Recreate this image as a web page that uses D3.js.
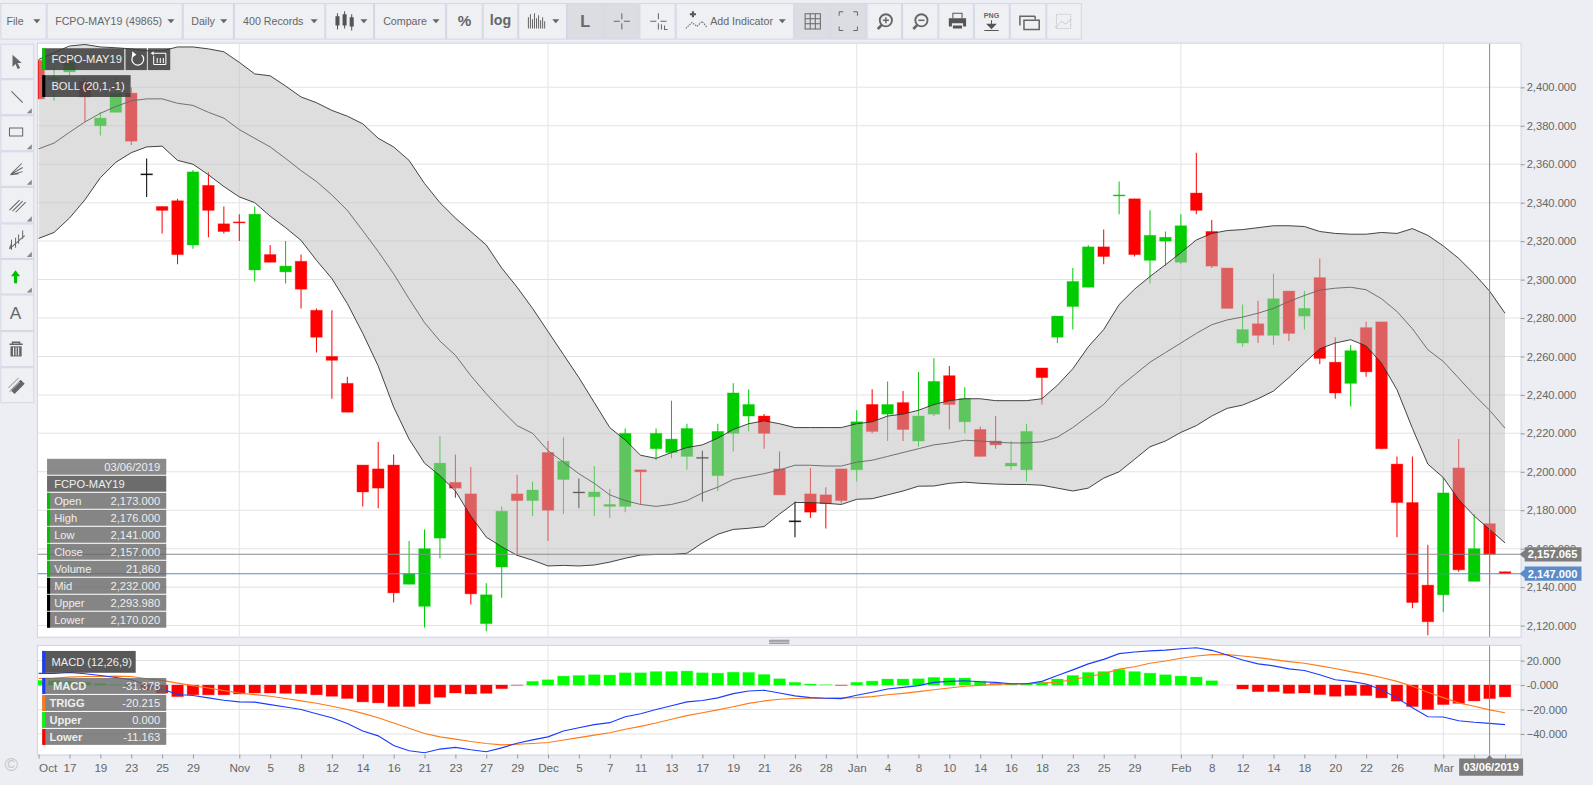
<!DOCTYPE html>
<html>
<head>
<meta charset="utf-8">
<script src="https://d3js.org/d3.v7.min.js"></script>
<style>
    html, body {margin: 0; padding: 0; background: #eceef3; overflow: hidden}
    svg {display: block; font-family: "Liberation Sans", Arial, sans-serif}
    .axis text {fill: #666; font-size: 11px}
    .axis line {stroke: #999}
    .axis path {display: none}
    .grid line {stroke: #e3e3e3}
    .btn {fill: #eef0f4; stroke: #d3d7e6}
    .btn.on {fill: #dcdde2}
    .icon {fill: none}
    .ui-text {fill: #666; font-size: 10.5px}
</style>
</head>
<body>
<div id="chart"></div>
<script>

    let dates = ["2018-10-15","2018-10-16","2018-10-17","2018-10-18","2018-10-19","2018-10-22","2018-10-23","2018-10-24",
        "2018-10-25","2018-10-26","2018-10-29","2018-10-30","2018-10-31","2018-11-01","2018-11-02","2018-11-05",
        "2018-11-07","2018-11-08","2018-11-09","2018-11-12","2018-11-13","2018-11-14","2018-11-15","2018-11-16",
        "2018-11-19","2018-11-21","2018-11-22","2018-11-23","2018-11-26","2018-11-27","2018-11-28","2018-11-29",
        "2018-11-30","2018-12-03","2018-12-04","2018-12-05","2018-12-06","2018-12-07","2018-12-10","2018-12-11",
        "2018-12-12","2018-12-13","2018-12-14","2018-12-17","2018-12-18","2018-12-19","2018-12-20","2018-12-21",
        "2018-12-24","2018-12-26","2018-12-27","2018-12-28","2018-12-31","2019-01-02","2019-01-03","2019-01-04",
        "2019-01-07","2019-01-08","2019-01-09","2019-01-10","2019-01-11","2019-01-14","2019-01-15","2019-01-16",
        "2019-01-17","2019-01-18","2019-01-22","2019-01-23","2019-01-24","2019-01-25","2019-01-28","2019-01-29",
        "2019-01-30","2019-01-31","2019-02-01","2019-02-07","2019-02-08","2019-02-11","2019-02-12","2019-02-13",
        "2019-02-14","2019-02-15","2019-02-18","2019-02-19","2019-02-20","2019-02-21","2019-02-22","2019-02-25",
        "2019-02-26","2019-02-27","2019-02-28","2019-03-01","2019-03-04","2019-03-05","2019-03-06","2019-03-07"];

    let opens = [2414,2404,2408,2403,2380,2387,2397,2355,2338,2341,2318,2349,2329,2330,2305,2313,2304,2309.5,2284,2260,
        2246,2203.5,2201.5,2203.5,2141.5,2130,2165.5,2194.5,2188.5,2121,2150.5,2188.5,2185,2210,2196,2189.5,2187,2182,2182,2201,
        2212,2210,2208,2207.5,2198,2220,2229,2229,2201.5,2174.5,2188.5,2188,2201.5,2201,2235,2230,2236,2216,2230,2250,
        2226,2222,2216,2203,2201,2254,2270,2286,2296,2317,2343.5,2342,2310,2320,2309,2345,2325,2306,2267,2277,
        2271,2294,2281,2301,2257,2246,2275,2278,2204,2184,2141,2136,2202,2143,2173,2148];
    let highs = [2414,2411,2418,2405,2387,2405,2400,2363,2338,2342,2357,2356,2338,2334,2338,2318,2320,2313,2285,2284,
        2249.5,2203.5,2215.5,2209,2164,2170,2218.5,2209,2202.5,2142,2182,2198.5,2195,2216,2218,2196.5,2203,2191,2222.5,2201,
        2222.5,2237,2225,2211,2225,2246,2243,2230,2210.5,2184.5,2202,2192,2201.5,2232,2243,2247,2242,2252,2259,2255,
        2244,2223.5,2229,2216,2225,2254,2281,2306,2318,2326,2351,2342,2336,2325,2334,2366,2331,2306,2287,2289,
        2303,2294,2294,2311,2270,2266,2278,2278,2208,2208,2162,2197,2217,2178,2176,2148];
    let lows = [2394,2393,2406,2382,2375,2387,2370,2343,2324,2308,2316,2322,2324,2320,2299,2309,2298,2285,2262,2238,
        2231,2182,2181,2132,2141.5,2119,2155,2186.5,2131,2117,2134.5,2156.5,2177,2164,2178,2181,2177,2176,2179,2183,
        2206,2207,2201,2184.5,2190,2210.5,2221,2212,2188,2166,2176,2170.5,2183.5,2195,2220,2216,2216,2213,2229,2222,
        2220,2208,2212,2201,2195,2235,2267,2274,2296,2308,2334,2312,2298,2307,2308,2334,2306,2285,2265,2267,
        2266,2268,2274,2256,2238,2234,2249.5,2212,2166,2129,2115,2127,2148,2143,2141,2147];
    let closes = [2394,2405,2413,2395,2384,2397,2372,2355,2336,2313,2356,2336,2325,2329.5,2334,2309,2307,2295,2270,2258,
        2231,2189.5,2191.5,2137,2147,2160,2204.5,2191.5,2136.5,2136,2179.5,2185,2190.5,2180,2205.5,2189.5,2189.5,2183,2220,2200,
        2220,2217,2222.5,2207.5,2221,2241,2235,2220,2188,2174.5,2179,2183.5,2185,2226,2221,2235,2222,2229,2247,2235,
        2238,2208,2214,2204.5,2221,2249,2281,2299,2317,2312,2344,2313,2323,2322,2328,2336,2307,2285,2274,2271,
        2290,2272,2285,2259,2241,2263,2252,2212,2184,2132,2122,2189,2149,2160,2157,2147];

    let bollUpper = [2414.5,2418,2421.5,2422.3,2421,2420.6,2420,2419,2419,2421,2421,2420,2418.5,2413,2407,2406,2400.7,2395,2392,2388,
        2385,2381,2373.5,2369,2362,2350,2340,2332,2325,2318,2306,2296,2285,2273,2261,2249,2236,2223,2216.5,2208.6,
        2207,2210,2212.6,2214,2217.5,2222,2225,2226.5,2225,2223,2223,2223,2223,2225,2226,2229,2230,2232,2235,2237,
        2238,2238,2237,2237,2237,2238,2245,2253.6,2265,2274,2287,2295,2301.6,2307.7,2314,2320.6,2324,2325.5,2326,2327,
        2328,2328,2327.6,2325,2324,2323.6,2323.6,2324.5,2324,2326.5,2323,2317.5,2311,2303,2294,2282.5];
    let bollMid = [2368,2371,2376.6,2382,2386.5,2390,2393,2394,2394,2391.7,2390.6,2387,2384,2378,2373.5,2369,2363,2356.7,2351,2344,
        2336,2325.4,2314.6,2303,2290,2277.6,2268,2260.6,2250,2240.6,2232,2224,2220,2211,2205,2199,2194,2188,2185,2183,
        2182,2183,2185,2189,2192,2196,2197.5,2199,2201,2203.4,2203.4,2203,2203,2205,2206,2208,2210,2212,2214,2215,
        2216.4,2216,2215.4,2215,2215,2215.6,2218,2223,2229,2235,2244,2250.5,2257,2262,2267,2272,2276.5,2279,2280.5,2282.5,
        2285,2288.6,2291.7,2294.5,2295.5,2296,2294.7,2290,2283.4,2274.4,2263.5,2257.4,2248.7,2240,2232,2222.7];
    let bollLower = [2321.4,2324.5,2332,2341.5,2353,2361,2366,2369,2369.4,2362,2360,2354.5,2348.4,2343,2340,2333,2327,2320.4,2310,2300.5,
        2287.5,2272,2255,2233.7,2217,2204.5,2198,2190,2177,2166,2161,2156.5,2154,2151,2151.3,2151,2151.5,2153,2155,2156.7,
        2157,2157,2157.6,2163,2167.5,2170,2170.6,2171.5,2178,2184,2184,2183.6,2183,2185.7,2186,2188,2190,2192.5,2192.6,2194,
        2194.6,2194,2193.6,2193.4,2193.4,2193,2191.5,2190,2191.5,2196.7,2200,2206.5,2213,2216,2220.5,2224,2229,2233,2234.7,2238,
        2242,2249,2256.6,2264,2267,2268.7,2265.5,2256.5,2242.7,2222.6,2204,2197,2185.5,2177,2170,2163];

    let macdLine = [9.5,9.5,10.3,9.2,7.8,6.2,4.3,0.3,-3.2,-7.8,-8.6,-10.5,-12.4,-13.8,-14,-16,-18,-20,-23.5,-26.8,
        -31.4,-37.6,-41.6,-49.5,-53.8,-55.4,-52.4,-51,-53,-54.6,-51.4,-47.6,-44.9,-42.4,-37.6,-34.9,-32.4,-30.8,-26,-23.5,
        -20,-17,-13.8,-12.7,-10.5,-7,-4.9,-4.3,-6.5,-8.9,-10.3,-10.8,-11.1,-8.4,-5.9,-3.2,-1.9,-0.5,2.2,3,
        3.5,2.7,2.2,1.1,1.1,3,7.8,12.4,17.3,21,25.7,27,28,28.6,29.7,30.5,28.4,24.6,20.5,17.3,
        15.7,13.2,11.9,8.4,4.3,3,0.8,-3.8,-10.5,-18.6,-26,-26.2,-29.2,-30.5,-31.4,-32.4];
    let triggLine = [5.4,5.7,6.5,7,7,7.3,7,5.1,3.8,1.6,-0.5,-2.4,-4.6,-6.5,-7.8,-9.2,-11,-13,-14.9,-17.3,
        -20,-23.2,-26.8,-31,-35.4,-39.7,-42.4,-44.3,-46.2,-47.8,-49,-48.4,-47.8,-47,-45,-43,-41,-39,-36.2,-33.8,
        -31,-28,-25,-22.7,-20.3,-17.8,-15,-13,-11.6,-11,-10.8,-10.8,-10.5,-10.3,-9.5,-8,-6.8,-5.4,-3.8,-2.4,
        -1,-0.3,0.5,0.8,1.1,1.6,2.4,4.3,7,9.2,13,15,17.8,19.7,21.9,23.8,24.9,24.9,23.8,22.4,
        20.8,19.2,17.8,15.7,13.5,11,8.9,6.2,3,-1,-5.9,-10.3,-14.6,-17.3,-20.3,-22.7];
    let histValues = [3.8,3.5,3,2,1,0.2,-0.5,-4,-6.5,-9.5,-8,-8,-8,-7.3,-6.5,-6.5,-6.8,-7,-8,-9.2,
        -11,-13.8,-14.6,-17.6,-17.6,-15.4,-10,-6.5,-7.3,-6.8,-3,-0.2,3,4.3,7.3,7.8,8.4,8.1,10,10,
        11,11,11.4,10,9.7,10.5,10.3,8.6,5.1,2.2,0.8,0.2,-0.3,2.2,3.2,4.9,4.9,5.1,6.2,5.7,
        5.7,3.2,1.6,0.8,0.8,2.2,4.9,7.8,10.3,11,12.7,11,9.7,8.4,7.3,6.5,3.5,0,-3.2,-5.4,
        -5.4,-6.8,-6.5,-7.8,-9.2,-8.6,-8.6,-10.5,-13.2,-17.6,-20,-16,-15,-13,-11.1,-9.7];

    let tickDates = ["2018-10-15","2018-10-17","2018-10-19","2018-10-23","2018-10-25","2018-10-29","2018-11-01","2018-11-05",
        "2018-11-08","2018-11-12","2018-11-14","2018-11-16","2018-11-21","2018-11-23","2018-11-27","2018-11-29","2018-12-03",
        "2018-12-05","2018-12-07","2018-12-11","2018-12-13","2018-12-17","2018-12-19","2018-12-21","2018-12-26","2018-12-28",
        "2019-01-02","2019-01-04","2019-01-08","2019-01-10","2019-01-14","2019-01-16","2019-01-18","2019-01-23","2019-01-25",
        "2019-01-29","2019-02-01","2019-02-08","2019-02-12","2019-02-14","2019-02-18","2019-02-20","2019-02-22","2019-02-26",
        "2019-03-01","2019-03-05","2019-03-07"];
    // the last two sit behind the date box
    let tickLabels = ["Oct","17","19","23","25","29","Nov","5","8","12","14","16","21","23","27","29","Dec","5","7","11","13",
        "17","19","21","26","28","Jan","4","8","10","14","16","18","23","25","29","Feb","8","12","14","18","20","22","26","Mar","",""];
    let monthTicks = ["2018-11-01","2018-12-03","2019-01-02","2019-02-01","2019-03-01"];
    let priceTicks = [2120,2140,2160,2180,2200,2220,2240,2260,2280,2300,2320,2340,2360,2380,2400];
    let macdTicks = [-40,-20,0,20];

    let infoRows = [["Open","2,173.000","#00c000"],["High","2,176.000","#00c000"],["Low","2,141.000","#00c000"],
        ["Close","2,157.000","#00c000"],["Volume","21,860","#00c000"],["Mid","2,232.000","#000"],
        ["Upper","2,293.980","#000"],["Lower","2,170.020","#000"]];
    let macdRows = [["MACD","-31.378","#1a3cff"],["TRIGG","-20.215","#ff7a1a"],["Upper","0.000","#00ff00"],["Lower","-11.163","#ff0000"]];

    let crossDate = "2019-03-06", lastPrice = 2157.065, bidPrice = 2147;

    // the screenshot coordinates were read at 1568 wide
    let W = 1568, H = 773;
    let plot = {left: 37, right: 1497, top: 43, bottom: 627},
        sub = {top: 636, bottom: 743};

    let svg = d3.select("#chart").append("svg")
        .attr("width", 1593).attr("height", 785)
        .attr("viewBox", "0 0 " + W + " " + H);

    svg.append("rect").attr("width", W).attr("height", H).attr("fill", "#eceef3");

    let x = d3.scalePoint().domain(dates).range([37.7, 1481.7]);
    let y = d3.scaleLinear().domain([2400, 2120]).range([86, 616]);
    let yM = d3.scaleLinear().domain([20, -40]).range([650.5, 722.7]);

    let defs = svg.append("defs");
    defs.append("clipPath").attr("id", "clip-main").append("rect")
        .attr("x", plot.left).attr("y", plot.top).attr("width", plot.right - plot.left).attr("height", plot.bottom - plot.top);
    defs.append("clipPath").attr("id", "clip-sub").append("rect")
        .attr("x", plot.left).attr("y", sub.top).attr("width", plot.right - plot.left).attr("height", sub.bottom - sub.top);

    // panels
    [[plot.top, plot.bottom], [sub.top, sub.bottom]].forEach(function(p) {
        svg.append("rect").attr("x", plot.left - .5).attr("y", p[0] - .5)
            .attr("width", plot.right - plot.left + 1).attr("height", p[1] - p[0] + 1)
            .attr("fill", "#fff").attr("stroke", "#ced3e6");
    });

    // grid
    let gridMain = svg.append("g").attr("class", "grid").attr("clip-path", "url(#clip-main)");
    gridMain.selectAll(".h").data(priceTicks).enter().append("line")
        .attr("x1", plot.left).attr("x2", plot.right).attr("y1", d => y(d)).attr("y2", d => y(d));
    gridMain.selectAll(".v").data(monthTicks).enter().append("line")
        .attr("x1", d => x(d)).attr("x2", d => x(d)).attr("y1", plot.top).attr("y2", plot.bottom);
    let gridSub = svg.append("g").attr("class", "grid").attr("clip-path", "url(#clip-sub)");
    gridSub.selectAll(".h").data(macdTicks).enter().append("line")
        .attr("x1", plot.left).attr("x2", plot.right).attr("y1", d => yM(d)).attr("y2", d => yM(d));
    gridSub.selectAll(".v").data(monthTicks).enter().append("line")
        .attr("x1", d => x(d)).attr("x2", d => x(d)).attr("y1", sub.top).attr("y2", sub.bottom);

    // candles
    let candleColor = function(i) {
        if (opens[i] === closes[i]) return "#000";
        return closes[i] > opens[i] ? "#00cc00" : "#ff0000";
    };
    let main = svg.append("g").attr("clip-path", "url(#clip-main)");
    let candle = main.selectAll(".candle").data(dates).enter().append("g").attr("class", "candle");
    candle.append("line")
        .attr("x1", d => x(d)).attr("x2", d => x(d))
        .attr("y1", (d, i) => y(highs[i])).attr("y2", (d, i) => y(lows[i]))
        .attr("stroke", (d, i) => candleColor(i)).attr("stroke-width", 1);
    candle.append("rect")
        .attr("x", d => x(d) - 5.7).attr("width", 11.4)
        .attr("y", (d, i) => y(Math.max(opens[i], closes[i])))
        .attr("height", (d, i) => Math.max(1, Math.abs(y(opens[i]) - y(closes[i]))))
        .attr("fill", (d, i) => candleColor(i))
        .attr("stroke", (d, i) => candleColor(i)).attr("stroke-opacity", .35);

    // bollinger band drawn over the candles
    let area = d3.area().x(d => x(d)).y0((d, i) => y(bollLower[i])).y1((d, i) => y(bollUpper[i]));
    main.append("path").datum(dates).attr("d", area).attr("fill", "rgb(190,190,190)").attr("fill-opacity", .5);
    let bandLine = function(values, color) {
        main.append("path").datum(dates)
            .attr("d", d3.line().x(d => x(d)).y((d, i) => y(values[i])))
            .attr("fill", "none").attr("stroke", color).attr("stroke-width", .9);
    };
    bandLine(bollMid, "#666");
    bandLine(bollUpper, "#333");
    bandLine(bollLower, "#333");

    // price lines
    main.append("line").attr("x1", plot.left).attr("x2", plot.right).attr("y1", y(lastPrice)).attr("y2", y(lastPrice)).attr("stroke", "#8c8c8c");
    main.append("line").attr("x1", plot.left).attr("x2", plot.right).attr("y1", y(bidPrice)).attr("y2", y(bidPrice)).attr("stroke", "#5b8bc9");

    // macd
    let subG = svg.append("g").attr("clip-path", "url(#clip-sub)");
    subG.selectAll(".hist").data(dates).enter().append("rect").attr("class", "hist")
        .attr("x", d => x(d) - 5.7).attr("width", 11.4)
        .attr("y", (d, i) => yM(Math.max(histValues[i], 0)))
        .attr("height", (d, i) => Math.abs(yM(histValues[i]) - yM(0)))
        .attr("fill", (d, i) => histValues[i] >= 0 ? "#00ff00" : "#ff0000")
        .attr("stroke", (d, i) => histValues[i] >= 0 ? "#00ff00" : "#ff0000").attr("stroke-opacity", .3);
    let subLine = function(values, color) {
        subG.append("path").datum(dates)
            .attr("d", d3.line().x(d => x(d)).y((d, i) => yM(values[i])))
            .attr("fill", "none").attr("stroke", color).attr("stroke-width", 1.1);
    };
    subLine(triggLine, "#ff7a1a");
    subLine(macdLine, "#1a3cff");

    // crosshair
    svg.append("line").attr("x1", x(crossDate)).attr("x2", x(crossDate)).attr("y1", plot.top).attr("y2", plot.bottom).attr("stroke", "#8c8c8c");
    svg.append("line").attr("x1", x(crossDate)).attr("x2", x(crossDate)).attr("y1", sub.top).attr("y2", sub.bottom).attr("stroke", "#8c8c8c");

    // axes
    svg.append("g").attr("class", "axis").attr("transform", "translate(" + plot.right + ",0)")
        .call(d3.axisRight(y).tickValues(priceTicks).tickSize(4).tickPadding(2).tickFormat(d3.format(",.3f")));
    svg.append("g").attr("class", "axis").attr("transform", "translate(" + plot.right + ",0)")
        .call(d3.axisRight(yM).tickValues(macdTicks).tickSize(4).tickPadding(2)
            .tickFormat(d => d === 0 ? "-0.000" : d3.format(".3f")(d)));
    let xAxis = svg.append("g").attr("class", "axis").attr("transform", "translate(0," + sub.bottom + ")")
        .call(d3.axisBottom(x).tickValues(tickDates).tickSize(4).tickPadding(5).tickFormat((d, i) => tickLabels[i]));
    xAxis.selectAll("text").style("font-size", "11.5px").filter((d, i) => i === 0).attr("text-anchor", "start");

    // price tags
    let priceTag = function(v, color) {
        let t = svg.append("g").attr("transform", "translate(0," + y(v) + ")");
        t.append("path").attr("d", "M1496,0 L1501,-4 L1501,-7 L1557,-7 L1557,7 L1501,7 L1501,4 Z").attr("fill", color);
        t.append("text").attr("x", 1553).attr("y", 4).attr("text-anchor", "end")
            .attr("fill", "#fff").attr("font-size", 11).attr("font-weight", "bold").text(d3.format(",.3f")(v));
    };
    priceTag(lastPrice, "#7d7d7d");
    priceTag(bidPrice, "#5b8bc9");

    // date box under the crosshair
    let dateBox = svg.append("g");
    dateBox.append("path").attr("d", d3.line()([[x(crossDate) - 30, 747], [x(crossDate) - 3, 747], [x(crossDate), 743.5], [x(crossDate) + 3, 747], [x(crossDate) + 33, 747], [x(crossDate) + 33, 764], [x(crossDate) - 30, 764]])).attr("fill", "#7d7d7d");
    dateBox.append("text").attr("x", x(crossDate) + 1.5).attr("y", 759.5).attr("text-anchor", "middle")
        .attr("fill", "#fff").attr("font-size", 11).attr("font-weight", "bold").text("03/06/2019");

    // legends
    let tag = function(xl, yt, w, h, strip, label) {
        svg.append("rect").attr("x", xl).attr("y", yt).attr("width", w).attr("height", h).attr("fill", "#3c3c3c").attr("fill-opacity", .85);
        svg.append("rect").attr("x", xl).attr("y", yt).attr("width", 3).attr("height", h).attr("fill", strip);
        svg.append("text").attr("x", xl + 9).attr("y", yt + 15).attr("fill", "#eee").attr("font-size", 11).text(label);
    };
    tag(41.3, 47.5, 80.7, 21.5, "#00cc00", "FCPO-MAY19");
    tag(41.3, 74, 87, 21.5, "#000", "BOLL (20,1,-1)");
    tag(41.3, 641, 92, 21.5, "#1a3cff", "MACD (12,26,9)");
    [[123.3, 21], [145.3, 22]].forEach(function(b) {
        svg.append("rect").attr("x", b[0]).attr("y", 47.5).attr("width", b[1]).attr("height", 21.5).attr("fill", "#3c3c3c").attr("fill-opacity", .85);
    });
    svg.append("path").attr("class", "icon").style("stroke", "#fff").style("stroke-width", 1.2)
        .attr("d", "M139.2,54 A5.8,5.8 0 1 1 131,54.5");
    svg.append("path").attr("d", "M130,50.5 L134,54 L129.5,56.5 Z").attr("fill", "#fff");
    svg.append("path").attr("class", "icon").style("stroke", "#fff")
        .attr("d", "M151,52.5 H163 M151,63.5 H163 M163,52.5 V63.5 M151,55 V63.5 M154.5,57 V62 M157.5,57 V62 M160.5,57 V62");
    svg.append("path").attr("d", "M148,52.5 L151,50.5 V54.5 Z").attr("fill", "#fff");

    let rowTable = function(xl, yt, w, rows, bold) {
        rows.forEach(function(r, i) {
            let yy = yt + i * 16.73;
            svg.append("rect").attr("x", xl).attr("y", yy).attr("width", w).attr("height", 15.7).attr("fill", "#666").attr("fill-opacity", .8);
            svg.append("rect").attr("x", xl).attr("y", yy).attr("width", 3).attr("height", 15.7).attr("fill", r[2]);
            svg.append("text").attr("x", xl + (bold && i === 0 ? 10.5 : 7)).attr("y", yy + 12).attr("fill", "#eee").attr("font-size", 11).attr("font-weight", bold ? "bold" : "normal").text(r[0]);
            svg.append("text").attr("x", 157.4).attr("y", yy + 12).attr("text-anchor", "end").attr("fill", "#eee").attr("font-size", 11).text(r[1]);
        });
    };
    svg.append("rect").attr("x", 46).attr("y", 451.8).attr("width", 117.4).attr("height", 15.7).attr("fill", "#777").attr("fill-opacity", .85);
    svg.append("text").attr("x", 157.4).attr("y", 463.8).attr("text-anchor", "end").attr("fill", "#eee").attr("font-size", 11).text("03/06/2019");
    svg.append("rect").attr("x", 46).attr("y", 468.5).attr("width", 117.4).attr("height", 15.7).attr("fill", "#5c5c5c").attr("fill-opacity", .9);
    svg.append("text").attr("x", 53).attr("y", 480.5).attr("fill", "#eee").attr("font-size", 11).text("FCPO-MAY19");
    rowTable(46, 485.3, 117.4, infoRows, false);
    rowTable(41.3, 667.6, 122.1, macdRows, true);

    // splitter grip and copyright
    [630.5, 632, 633.5].forEach(function(g) {
        svg.append("line").attr("x1", 757).attr("x2", 777).attr("y1", g).attr("y2", g).attr("stroke", "#777").attr("stroke-width", .8);
    });
    svg.append("text").attr("x", 4).attr("y", 759).attr("fill", "#c4c6cc").attr("font-size", 18).text("©");

    // toolbar
    let topEdges = [0, 45.6, 179.6, 230, 320, 368, 439, 475, 510, 558, 593.8, 629.3, 665, 781.8, 817.4, 853, 888, 923.7, 958.6, 994, 1030, 1065];
    let activeTop = [9, 10, 13, 14];
    let bar = svg.append("g");
    d3.pairs(topEdges).forEach(function(e, i) {
        bar.append("rect").attr("class", activeTop.includes(i) ? "btn on" : "btn")
            .attr("x", e[0] + .5).attr("y", 3.5).attr("width", e[1] - e[0] - 1).attr("height", 35);
    });
    let caret = function(cx, cy) {
        bar.append("path").attr("d", "M" + (cx - 3.5) + "," + cy + " h7 l-3.5,4 Z").attr("fill", "#666");
    };
    let ink = function(d, color, width) {
        return bar.append("path").attr("class", "icon").attr("d", d).style("stroke", color || "#666").style("stroke-width", width || 1);
    };
    [["File", 6, 36], ["FCPO-MAY19 (49865)", 54, 168], ["Daily", 188, 220], ["400 Records", 239, 309], ["Compare", 377, 429], ["Add Indicator", 699, 770]].forEach(function(b) {
        bar.append("text").attr("class", "ui-text").attr("x", b[1]).attr("y", 24.5).text(b[0]);
        caret(b[2], 19);
    });
    bar.append("text").attr("x", 457).attr("y", 26).attr("text-anchor", "middle").attr("fill", "#666").attr("font-size", 15).attr("font-weight", "bold").text("%");
    bar.append("text").attr("x", 492.5).attr("y", 25).attr("text-anchor", "middle").attr("fill", "#666").attr("font-size", 14).attr("font-weight", "bold").text("log");
    bar.append("text").attr("x", 576).attr("y", 27).attr("text-anchor", "middle").attr("fill", "#666").attr("font-size", 16).attr("font-weight", "bold").text("L");
    caret(358, 19); caret(547, 19);

    // candle glyph
    bar.append("path").attr("d", "M330,16 h4 v9 h-4 Z M337,14 h4 v11 h-4 Z M344,17 h4 v9 h-4 Z").attr("fill", "#555");
    ink("M332,13 V29 M339,11 V28 M346,14 V30", "#555");
    // volume glyph
    ink("M520,17 V28 M522,14 V28 M524,19 V28 M526,13 V28 M528,18 V28 M530,15 V28 M532,20 V28 M534,17 V28 M536,21 V28");
    // crosshair glyphs
    ink("M604,21 h6 M614,21 h6 M612,13 v6 M612,23 v6");
    ink("M640,21 h6 M650,21 h6 M648,13 v6 M648,23 v6 M651,24 v5 M654,25 v4 h3");
    // add indicator glyph
    ink("M682,17 v-6 M679,14 h6", "#555", 2);
    ink("M675,28 L681,22 L686,26 L691,21 L696,27").style("stroke-dasharray", "1.5 1");
    // grid, fullscreen, zoom, print, png, windows, chart
    ink("M792.5,13.5 h15 v15 h-15 Z M797.5,13.5 v15 M802.5,13.5 v15 M792.5,18.5 h15 M792.5,23.5 h15");
    ink("M826,11.5 h4 M826,11.5 v4 M844,11.5 h-4 M844,11.5 v4 M826,30 h4 M826,30 v-4 M844,30 h-4 M844,30 v-4");
    [[872, "+"], [907, "-"]].forEach(function(z) {
        ink("M" + (z[0] - 6) + ",20 a6,6 0 1 1 12,0 a6,6 0 1 1 -12,0", "#666", 1.8);
        ink("M" + (z[0] - 4) + ",24.5 l-4,4", "#666", 2.6);
        ink("M" + (z[0] - 3) + ",20 h6" + (z[1] === "+" ? " M" + z[0] + ",17 v6" : ""), "#666", 1.5);
    });
    bar.append("path").attr("d", "M934,18 h17 v8 h-3 v-3 h-11 v3 h-3 Z M938,25 h9 v3 h-9 Z").attr("fill", "#555");
    ink("M938,18 v-5 h9 v5", "#555");
    bar.append("text").attr("x", 976).attr("y", 18).attr("text-anchor", "middle").attr("fill", "#666").attr("font-size", 7).attr("font-weight", "bold").text("PNG");
    bar.append("path").attr("d", "M976,20 v5 M972,24 l4,4 l4,-4 Z M969,30 h14").attr("stroke", "#555").attr("fill", "#555");
    ink("M1004,25 v-9 h15 M1019,16 v3 M1008,20 h15 v9 h-15 Z", "#666", 1.5);
    ink("M1040,14 h14 v14 h-14 Z M1039,27 l6,-6 l4,3 l6,-6", "#bbb").style("stroke-dasharray", "1 1");

    // left tools
    let leftEdges = [43, 78, 113.5, 149, 184, 220, 255, 290, 326, 361.6, 397];
    let tools = svg.append("g");
    let toolInk = function(d, color, width) {
        return tools.append("path").attr("class", "icon").attr("d", d).style("stroke", color || "#666").style("stroke-width", width || 1);
    };
    d3.pairs(leftEdges).forEach(function(e, i) {
        tools.append("rect").attr("class", "btn").attr("x", .5).attr("y", e[0] + .5).attr("width", 32.5).attr("height", e[1] - e[0] - 1);
        if (i > 0 && i < 7) {
            tools.append("path").attr("d", "M31," + (e[1] - 7) + " v5 h-5 Z").attr("fill", "#888");
        }
    });
    tools.append("path").attr("d", "M12,54 L21,62 L17,62 L19.5,67 L17,68 L15,63 L12,66 Z").attr("fill", "#666");
    toolInk("M11,90 L22,101");
    toolInk("M9,126 h13 v8 h-13 Z");
    toolInk("M10,172 L21,161 M10,172 L22,165 M10,172 L22,169 M10,172 L18,171");
    toolInk("M9,207 L19,197 M12,208 L22,198 M15,209 L25,199");
    toolInk("M9,245 L11,240 M11,246 V236 M15,244 V234 M18,240 V231 M22,235 V227 M9,245 L24,232");
    tools.append("path").attr("d", "M15,266 L10.5,272 H13.5 V279 H16.5 V272 H19.5 Z").attr("fill", "#00c000");
    tools.append("text").attr("x", 15).attr("y", 314).attr("text-anchor", "middle").attr("fill", "#666").attr("font-size", 17).text("A");
    toolInk("M9,339 h13 M12,339 v-2 h7 v2", "#666", 1.4);
    tools.append("path").attr("d", "M10,341 h11 v10 h-11 Z").attr("fill", "#666");
    toolInk("M13,342 v8 M15.5,342 v8 M18,342 v8", "#eef0f4");
    tools.append("path").attr("d", "M10,384 L20,374 L24,378 L14,388 Z").attr("fill", "#666");
    toolInk("M8,382 L18,372 M9,386 L19,376", "#aaa");

</script>
</body>
</html>
